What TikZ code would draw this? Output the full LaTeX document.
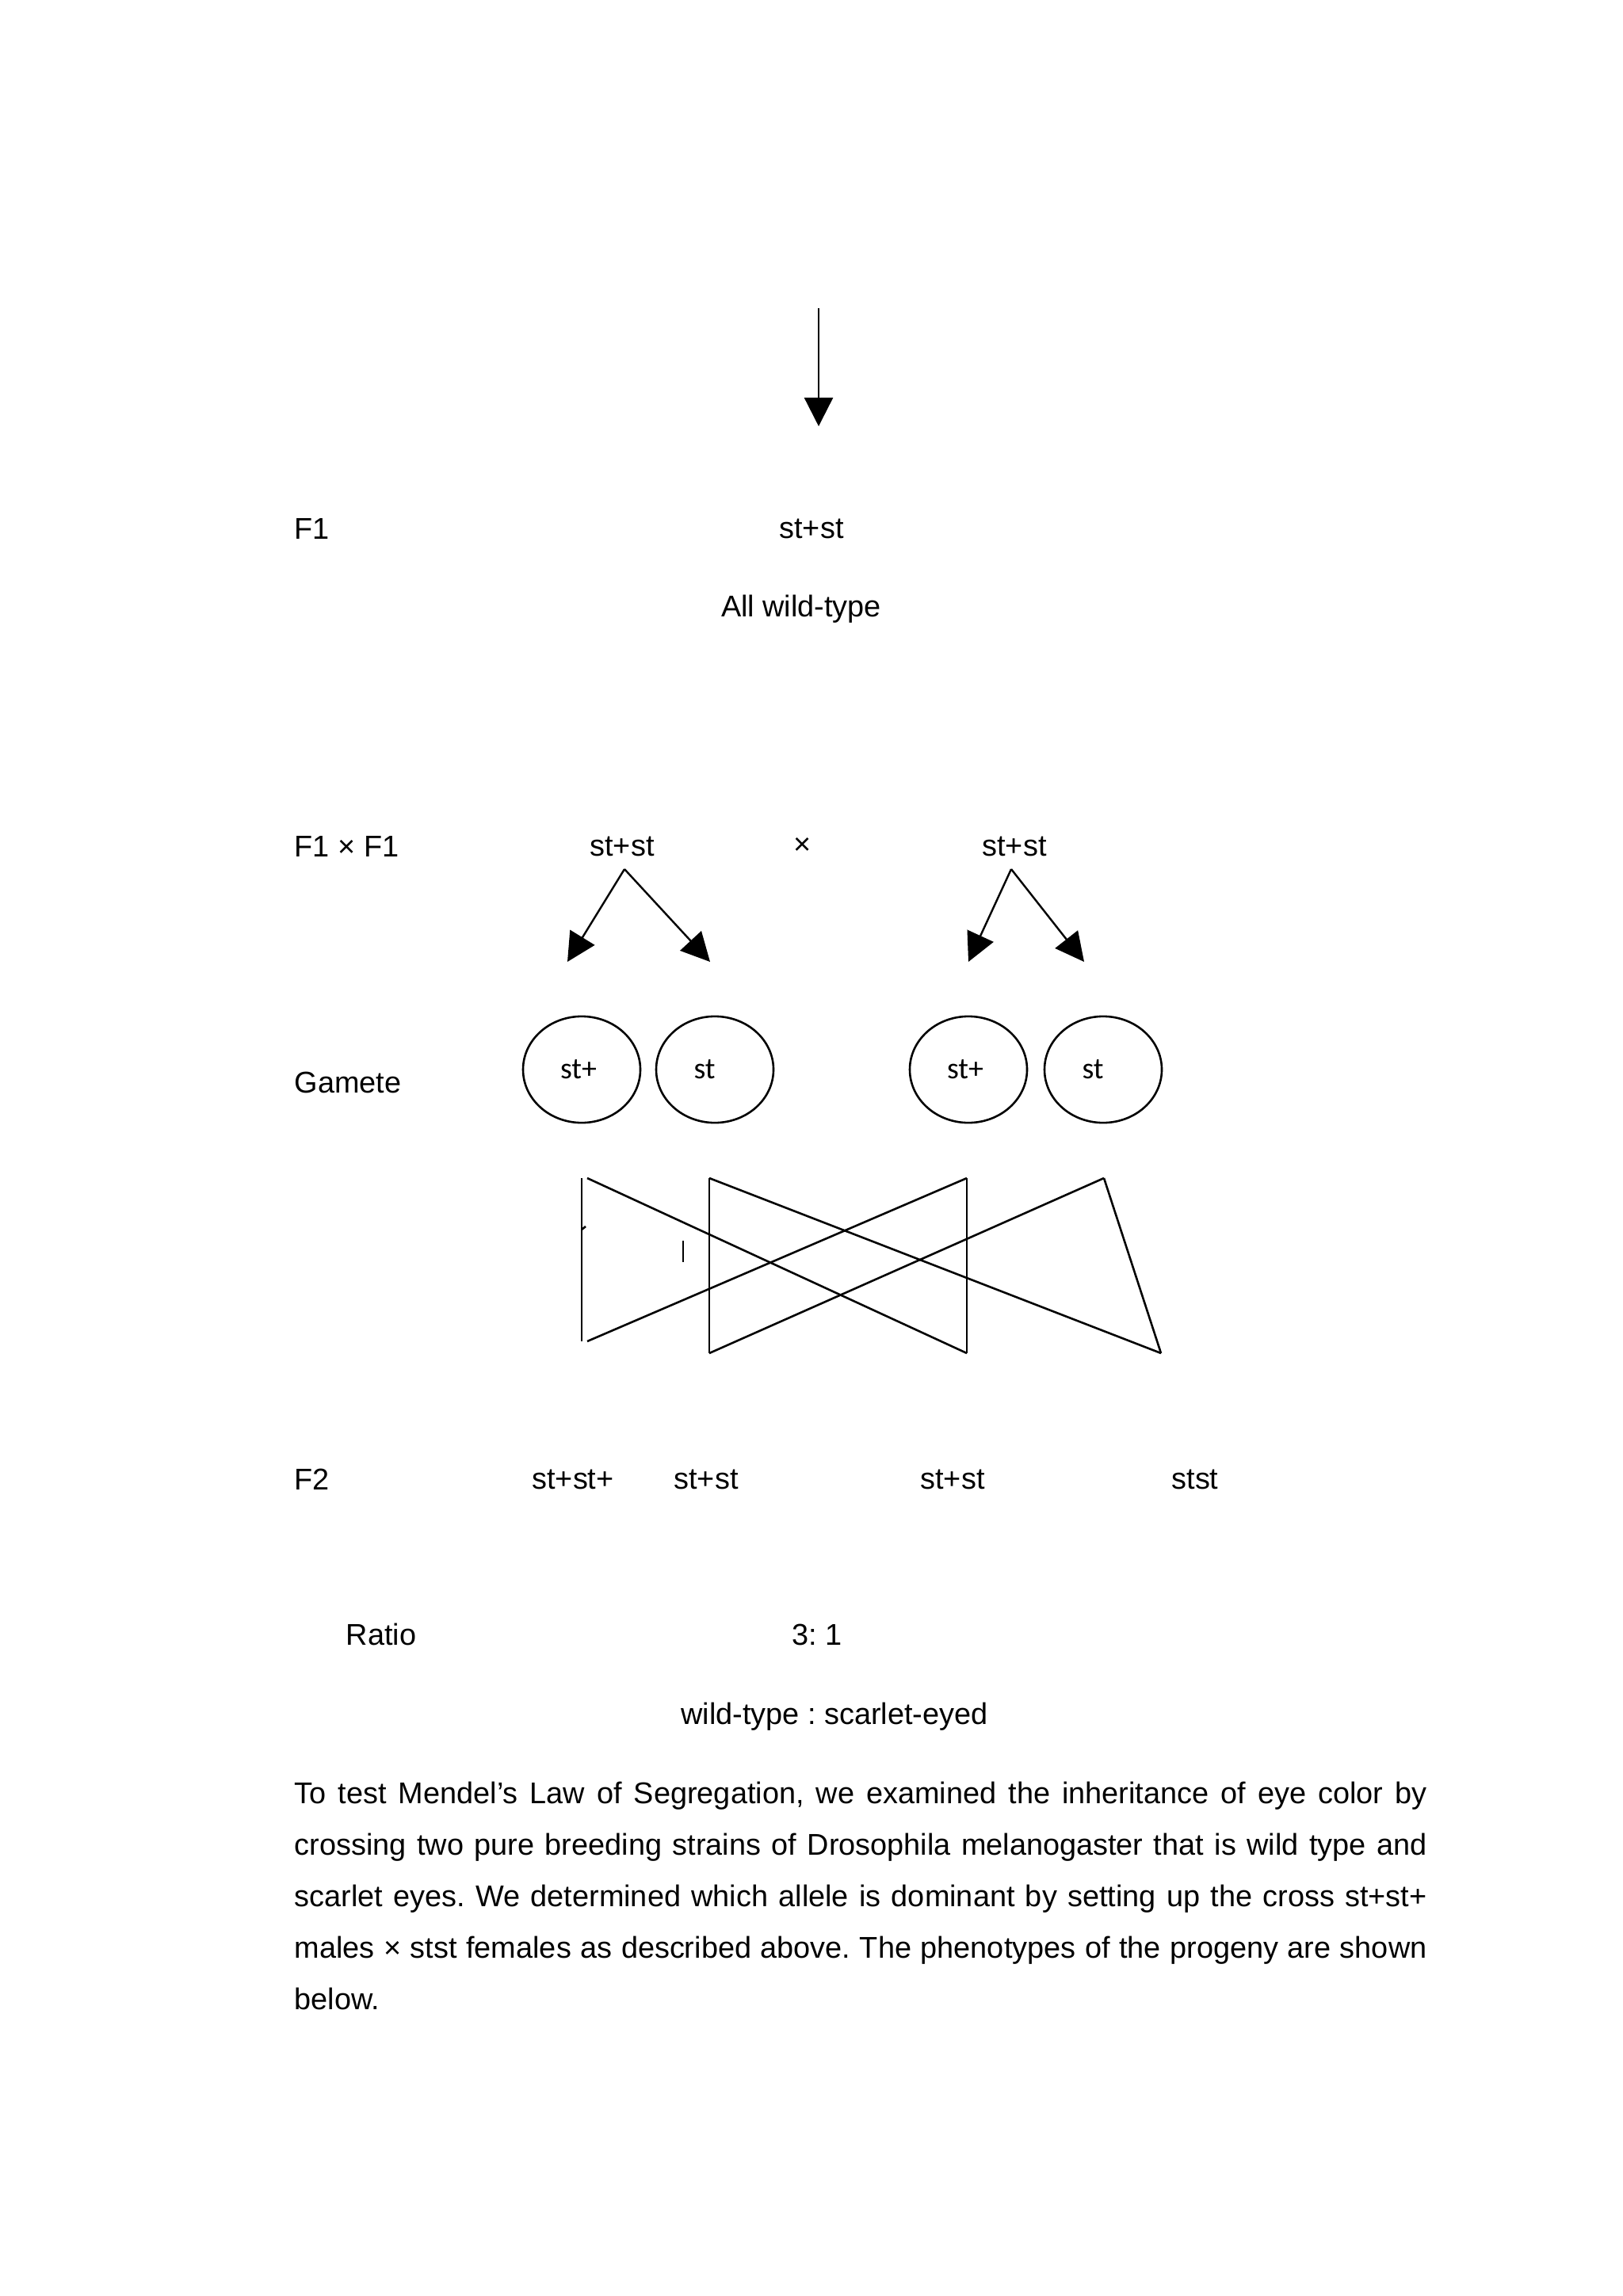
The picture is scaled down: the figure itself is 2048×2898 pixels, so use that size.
\documentclass[tikz,border=0pt]{standalone}
\usepackage{fontspec}
\setmainfont{Liberation Sans}
\newfontfamily\calib{Carlito}
\usetikzlibrary{arrows.meta,shapes.geometric}
\frenchspacing
\begin{document}
\begin{tikzpicture}[x=0.2905pt,y=-0.2905pt,
  lbl/.style={inner sep=0pt,font=\fontsize{11}{13}\selectfont},
  gam/.style={draw,line width=0.75pt,ellipse,inner sep=0pt,minimum width=43pt,minimum height=39pt,font=\calib\fontsize{11}{13}\selectfont},
  arr/.style={line width=0.7pt,-{Triangle[length=10.5pt,width=10.5pt]}},
  ln/.style={line width=0.75pt}]
\useasboundingbox (0,0) rectangle (2048,2898);
% top arrow
\coordinate (t0) at (1033,389);
\coordinate (t1) at (1033,538);
\draw[arr] (t0) -- (t1);
% F1
\node[lbl,anchor=west] (f1) at (371,667) {F1};
\node[lbl] (f1g) at (1024,667) {st+st};
\node[lbl] (f1p) at (1011,769) {All wild-type};
% F1 x F1
\node[lbl,anchor=west] (cross) at (371,1068) {F1 × F1};
\node[lbl] (pl) at (785,1068) {st+st};
\node[lbl] (px) at (1013,1068) {×};
\node[lbl] (pr) at (1280,1068) {st+st};
\coordinate (al) at (788,1097);
\coordinate (ar) at (1276,1097);
\coordinate (tl1) at (716,1214);
\coordinate (tl2) at (896,1214);
\coordinate (tr1) at (1222,1214);
\coordinate (tr2) at (1368,1214);
\draw[arr] (al) -- (tl1);
\draw[arr] (al) -- (tl2);
\draw[arr] (ar) -- (tr1);
\draw[arr] (ar) -- (tr2);
% gametes
\node[lbl,anchor=west] (gl) at (371,1366) {Gamete};
\node[gam] (g1) at (734,1350) {\raisebox{-1pt}{st+}\kern2.3pt};
\node[gam] (g2) at (902,1350) {\raisebox{-1pt}{st}\kern7.5pt};
\node[gam] (g3) at (1222,1350) {\raisebox{-1pt}{st+}\kern2.3pt};
\node[gam] (g4) at (1392,1350) {\raisebox{-1pt}{st}\kern7.5pt};
% crossing lines
\coordinate (v1a) at (734,1487);
\coordinate (v1b) at (734,1693);
\coordinate (a1) at (741,1487);
\coordinate (a2) at (741,1693);
\coordinate (b1) at (895,1487);
\coordinate (b2) at (895,1708);
\coordinate (c1) at (1220,1487);
\coordinate (c2) at (1220,1708);
\coordinate (d1) at (1393,1487);
\coordinate (d2) at (1465,1708);
\draw[ln] (v1a) -- (v1b);
\draw[ln] (734,1552) -- (739,1548);
\draw[ln] (a1) -- (c2);
\draw[ln] (a2) -- (c1);
\draw[ln] (b1) -- (b2);
\draw[ln] (b1) -- (d2);
\draw[ln] (b2) -- (d1);
\draw[ln] (c1) -- (c2);
\draw[ln] (d1) -- (d2);
\draw[line width=0.6pt] (862,1566) -- (862,1593);
% F2
\node[lbl,anchor=west] (f2) at (371,1867) {F2};
\node[lbl] (o1) at (723,1867) {st+st+};
\node[lbl] (o2) at (891,1867) {st+st};
\node[lbl] (o3) at (1202,1867) {st+st};
\node[lbl] (o4) at (1508,1867) {stst};
% ratio
\node[lbl,anchor=west] (ratio) at (436,2063) {Ratio};
\node[lbl] (rv) at (1031,2063) {3: 1};
\node[lbl] (rp) at (1053,2167) {wild-type : scarlet-eyed};
% paragraph
\node[inner sep=0pt,anchor=north west,text width=415.1pt,align=justify,font=\fontsize{11}{18.88}\selectfont] (para) at (371,2248)
{To test Mendel’s Law of Segregation, we examined the inheritance of eye color by crossing two pure breeding strains of Drosophila melanogaster that is wild type and scarlet eyes. We determined which allele is dominant by setting up the cross st+st+ males × stst females as described above. The phenotypes of the progeny are shown below.};
\end{tikzpicture}
\end{document}
